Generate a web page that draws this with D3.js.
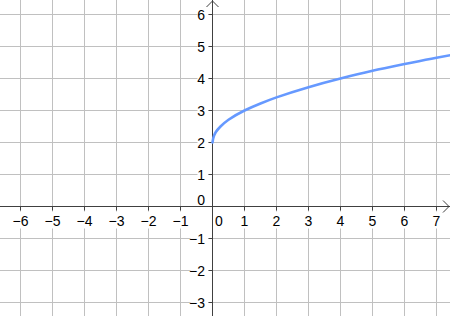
<!DOCTYPE html>
<meta charset="utf-8">
<script src="https://cdn.jsdelivr.net/npm/d3@7"></script>
<style>
  body { margin: 0; background: #fff; }
  text { font: 14px "Liberation Sans", Arial, sans-serif; fill: #000; }
  .grid line { stroke: #c0c0c0; stroke-width: 1px; shape-rendering: crispEdges; }
  .axis line, .axis path { stroke: #404040; stroke-width: 1px; fill: none; }
</style>
<body>
<script>
  var W = 450, H = 316;
  var unit = 32, ox = 212.5, oy = 206.5;

  // grid / tick labels
  var xTicks = [-6, -5, -4, -3, -2, -1, 0, 1, 2, 3, 4, 5, 6, 7];
  var yTicks = [-3, -2, -1, 0, 1, 2, 3, 4, 5, 6];

  // points
  var curveX = [0, 0.05, 0.1, 0.25, 0.5, 1, 1.5, 2, 3, 4, 5, 6, 7, 7.45];
  var curveY = [2, 2.22, 2.32, 2.5, 2.71, 3, 3.22, 3.41, 3.73, 4, 4.24, 4.45, 4.65, 4.73];

  var x = d3.scaleLinear().domain([-ox / unit, (W - ox) / unit]).range([0, W]);
  var y = d3.scaleLinear().domain([-(H - oy) / unit, oy / unit]).range([H, 0]);

  var svg = d3.select('body').append('svg')
    .attr('width', W)
    .attr('height', H);

  var grid = svg.append('g').attr('class', 'grid');
  grid.selectAll('line.v').data(xTicks.filter(function(d){return d != 0;}))
    .enter().append('line').attr('class', 'v')
    .attr('x1', function(d){return x(d);}).attr('x2', function(d){return x(d);})
    .attr('y1', 0).attr('y2', H);
  grid.selectAll('line.h').data(yTicks.filter(function(d){return d != 0;}))
    .enter().append('line').attr('class', 'h')
    .attr('y1', function(d){return y(d);}).attr('y2', function(d){return y(d);})
    .attr('x1', 0).attr('x2', W);

  var fmt = function(d){ return d < 0 ? '\u2212' + Math.abs(d) : String(d); };

  // x labels with white backing
  var xl = svg.append('g').selectAll('g').data(xTicks.filter(function(d){return d != 0;}))
    .enter().append('g');
  xl.append('rect')
    .attr('x', function(d){return x(d) - (d < 0 ? 8 : 5);})
    .attr('y', oy + 5).attr('width', function(d){return d < 0 ? 16 : 10;}).attr('height', 17)
    .attr('fill', '#fff');
  xl.append('text')
    .attr('x', function(d){return x(d);}).attr('y', oy + 19)
    .attr('text-anchor', 'middle')
    .text(fmt);

  var yl = svg.append('g').selectAll('g').data(yTicks.filter(function(d){return d != 0;}))
    .enter().append('g');
  yl.append('rect')
    .attr('x', function(d){return ox - (d < 0 ? 22 : 15);})
    .attr('y', function(d){return y(d) - 8;})
    .attr('width', function(d){return d < 0 ? 18 : 11;}).attr('height', 16)
    .attr('fill', '#fff');
  yl.append('text')
    .attr('x', ox - 7.5).attr('y', function(d){return y(d) + 5;})
    .attr('text-anchor', 'end')
    .text(fmt);

  svg.append('text').attr('x', ox - 7.5).attr('y', oy - 2).attr('text-anchor', 'end').text('0');
  svg.append('text').attr('x', ox + 2.5).attr('y', oy + 19).text('0');

  // axes, ticks, arrows
  var ax = svg.append('g').attr('class', 'axis');
  ax.append('line').attr('x1', 0).attr('x2', W).attr('y1', oy).attr('y2', oy);
  ax.append('line').attr('x1', ox).attr('x2', ox).attr('y1', 0).attr('y2', H);
  ax.selectAll('line.xt').data(xTicks.filter(function(d){return d != 0;}))
    .enter().append('line').attr('class', 'xt')
    .attr('x1', function(d){return x(d);}).attr('x2', function(d){return x(d);})
    .attr('y1', oy).attr('y2', oy + 4);
  ax.selectAll('line.yt').data(yTicks.filter(function(d){return d != 0;}))
    .enter().append('line').attr('class', 'yt')
    .attr('y1', function(d){return y(d);}).attr('y2', function(d){return y(d);})
    .attr('x1', ox - 4).attr('x2', ox);
  ax.append('path').attr('d', 'M' + (W - 7) + ',' + (oy - 6) + 'L' + (W - 1) + ',' + oy + 'L' + (W - 7) + ',' + (oy + 6));
  ax.append('path').attr('d', 'M' + (ox - 6) + ',7L' + ox + ',1L' + (ox + 6) + ',7');

  var pts = curveX.map(function(d, i){return [d, curveY[i]];});
  svg.append('path')
    .datum(pts)
    .attr('fill', 'none')
    .attr('stroke', '#6699ff')
    .attr('stroke-width', 2.6)
    .attr('stroke-linecap', 'round')
    .attr('d', d3.line()
      .x(function(d){return x(d[0]);})
      .y(function(d){return y(d[1]);})
      .curve(d3.curveMonotoneY));
</script>
</body>
</html>
